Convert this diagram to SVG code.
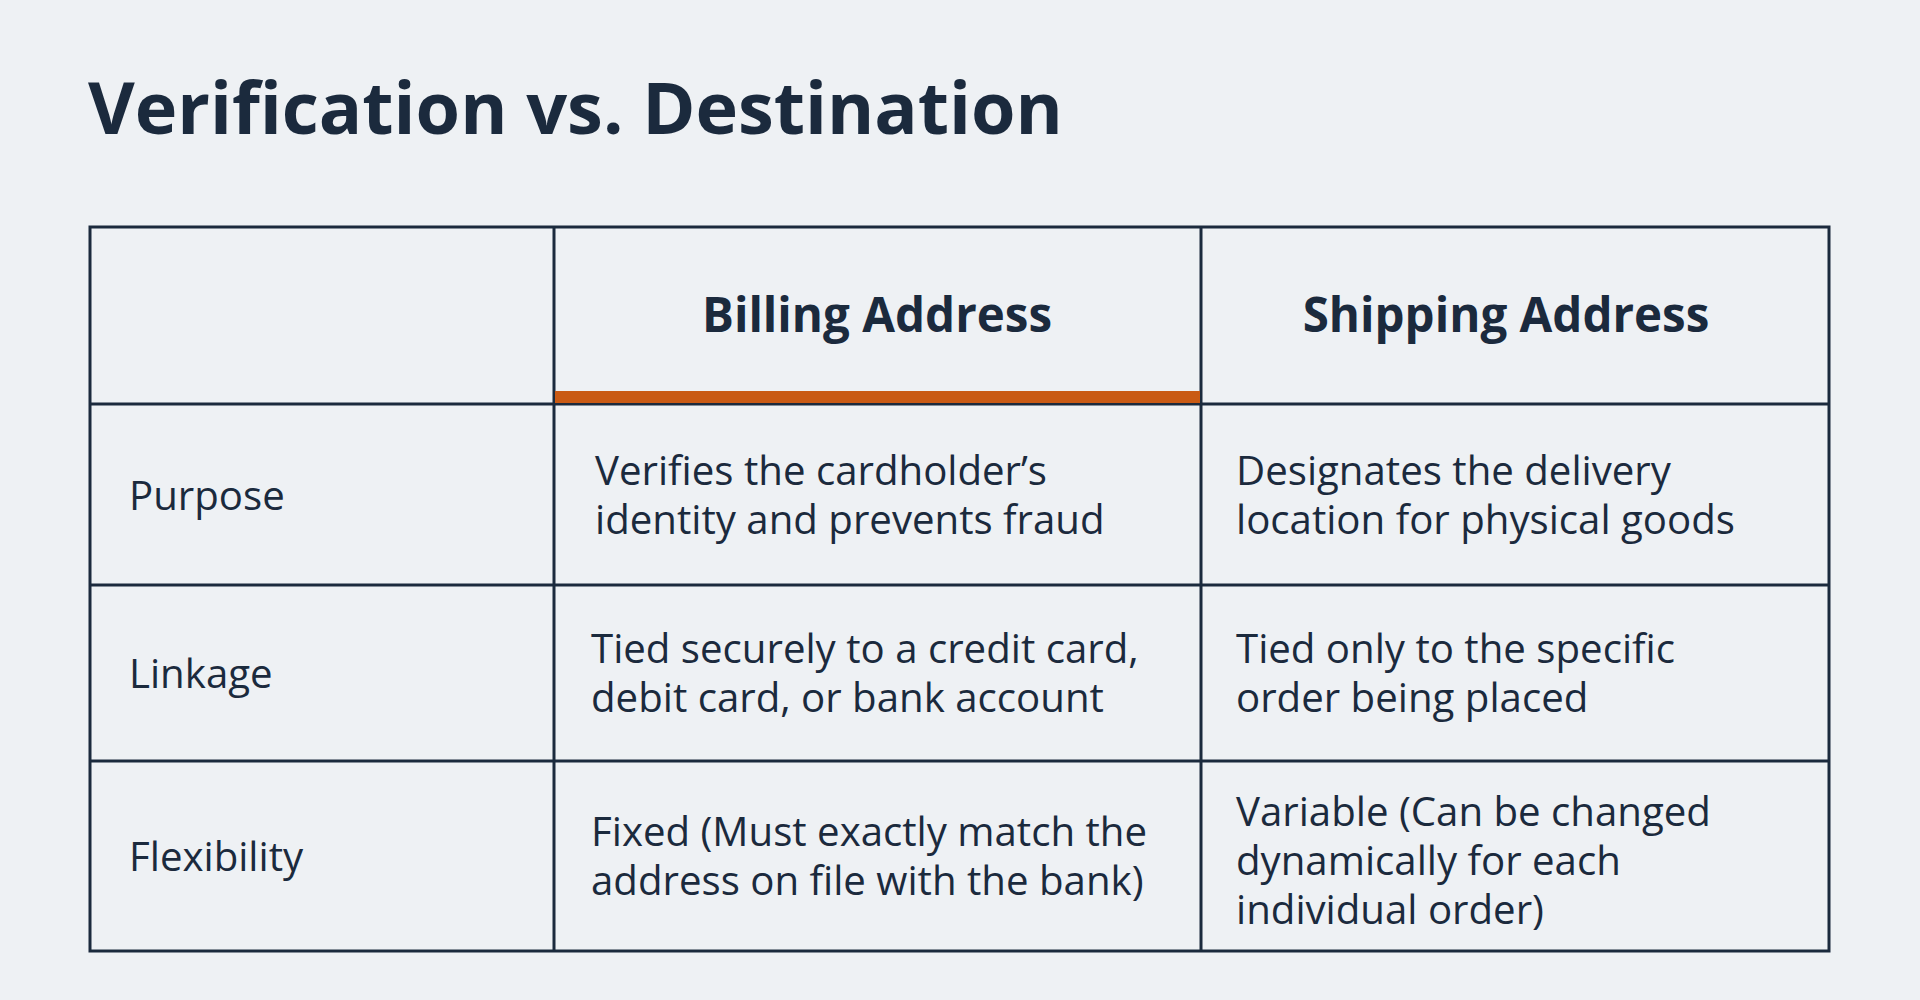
<svg xmlns="http://www.w3.org/2000/svg" width="1920" height="1000" viewBox="0 0 1920 1000">
<style>
.t{font-family:"Open Sans","Noto Sans",sans-serif;fill:#1b2a3d}
.h{font-weight:700;font-size:47.5px;text-anchor:middle}
.b{font-size:40.2px}
.ln{stroke:#1b2a3d;stroke-width:3;fill:none}
</style>
<rect width="1920" height="1000" fill="#eef1f4"/>
<text class="t" x="88" y="134" font-size="72" font-weight="700">Verification vs. Destination</text>
<g id="table">
<rect class="ln" x="90" y="227" width="1739" height="724"/>
<line class="ln" x1="554" y1="227" x2="554" y2="951"/>
<line class="ln" x1="1201" y1="227" x2="1201" y2="951"/>
<line class="ln" x1="90" y1="404" x2="1829" y2="404"/>
<line class="ln" x1="90" y1="585" x2="1829" y2="585"/>
<line class="ln" x1="90" y1="761" x2="1829" y2="761"/>
<rect x="555" y="391" width="645" height="12" fill="#c95a14"/>
</g>
<g id="header">
<text class="t h" x="877" y="332">Billing Address</text>
<text class="t h" x="1506" y="332">Shipping Address</text>
</g>
<g id="row-purpose">
<text class="t b" x="129" y="510">Purpose</text>
<text class="t b" x="595" y="485">Verifies the cardholder’s</text>
<text class="t b" x="595" y="534">identity and prevents fraud</text>
<text class="t b" x="1236" y="485">Designates the delivery</text>
<text class="t b" x="1236" y="534">location for physical goods</text>
</g>
<g id="row-linkage">
<text class="t b" x="129" y="688">Linkage</text>
<text class="t b" x="591" y="663">Tied securely to a credit card,</text>
<text class="t b" x="591" y="712">debit card, or bank account</text>
<text class="t b" x="1236" y="663">Tied only to the specific</text>
<text class="t b" x="1236" y="712">order being placed</text>
</g>
<g id="row-flex">
<text class="t b" x="129" y="871">Flexibility</text>
<text class="t b" x="591" y="846">Fixed (Must exactly match the</text>
<text class="t b" x="591" y="895">address on file with the bank)</text>
<text class="t b" x="1236" y="826">Variable (Can be changed</text>
<text class="t b" x="1236" y="875">dynamically for each</text>
<text class="t b" x="1236" y="924">individual order)</text>
</g>
<g id="connectors"/>
</svg>
